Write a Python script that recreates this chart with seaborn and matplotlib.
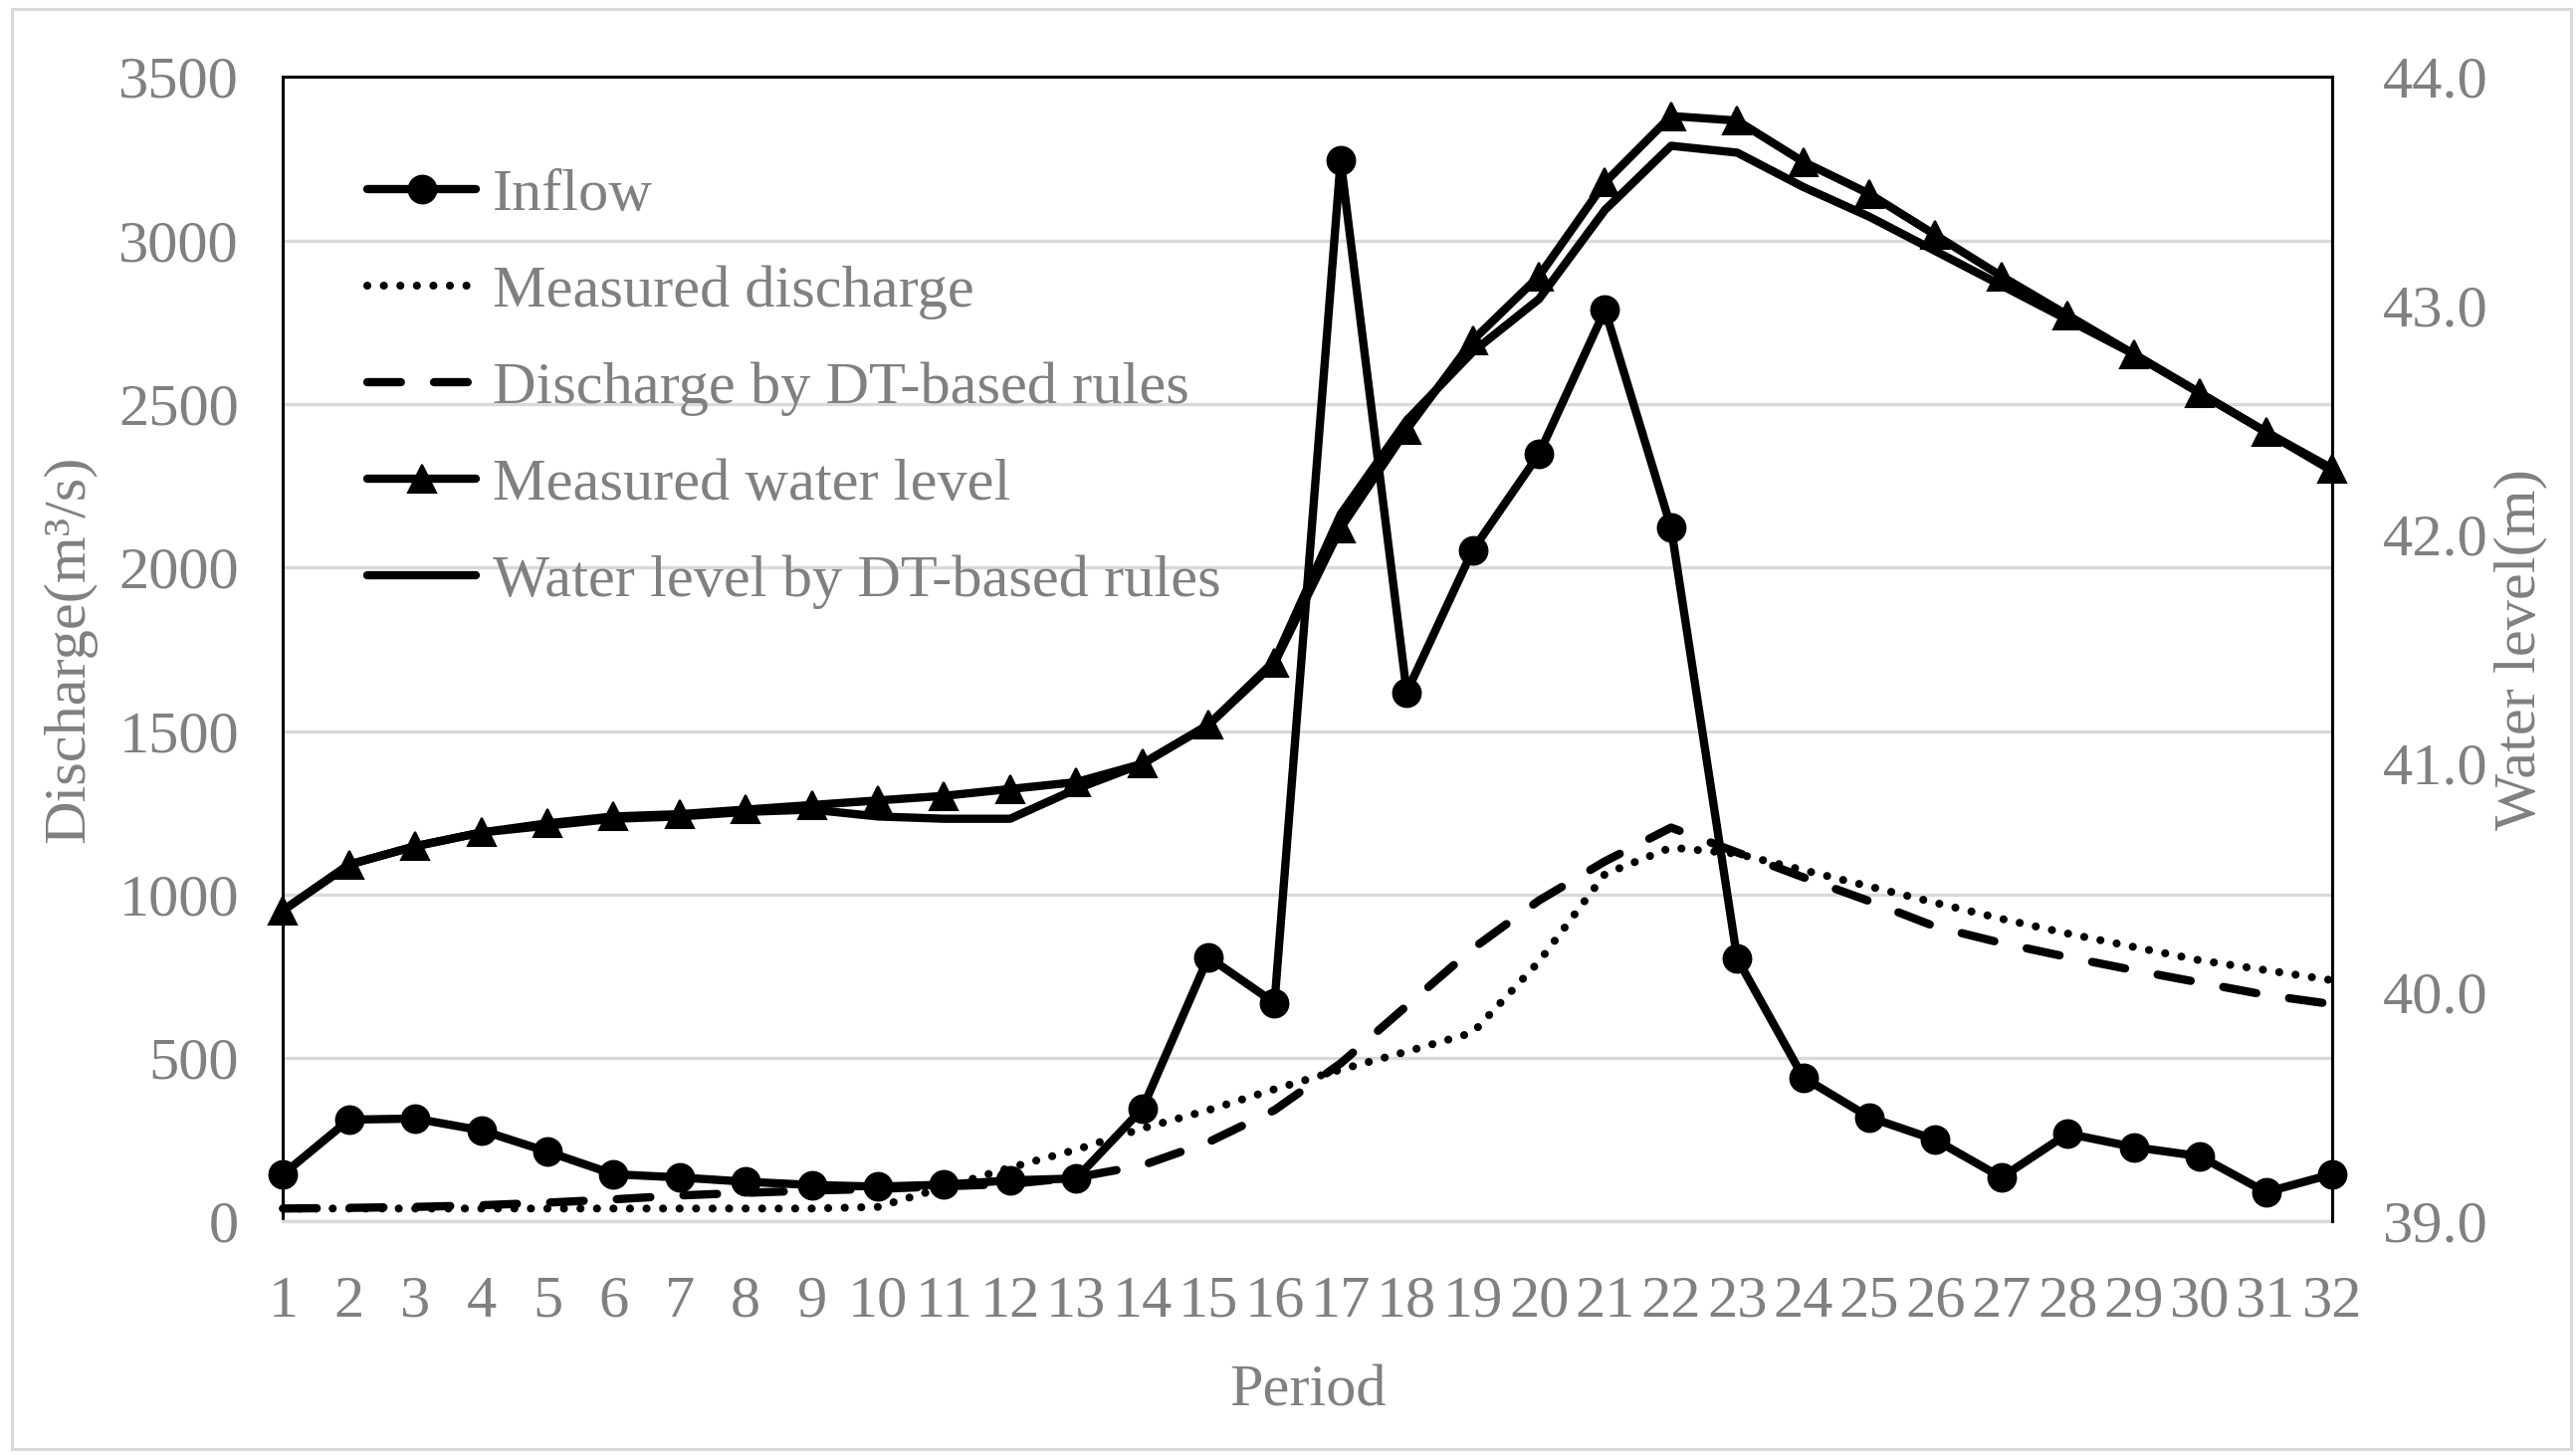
import matplotlib
matplotlib.use("Agg")
import matplotlib.pyplot as plt
from matplotlib.patches import Rectangle
from matplotlib.ticker import FixedLocator
import pandas as pd
import seaborn as sns

# values
period = list(range(1, 33))
inflow = [145, 312, 315, 279, 214, 145, 135, 122, 112, 107, 113, 126, 132, 345, 809, 669,
          3246, 1619, 2054, 2347, 2788, 2122, 804, 441, 319, 250, 135, 269, 228, 200, 90, 145]
measured_q = [40, 40, 40, 40, 40, 40, 40, 40, 40, 45, 105, 165, 220, 285, 341, 405,
              465, 520, 578, 795, 1063, 1144, 1125, 1075, 1025, 975, 926, 881, 840, 799, 769, 738]
dt_q = [40, 42, 45, 50, 58, 68, 80, 88, 95, 100, 108, 115, 135, 172, 243, 341,
        484, 660, 835, 982, 1102, 1205, 1129, 1053, 980, 902, 852, 809, 769, 731, 693, 665]
measured_wl = [40.36, 40.56, 40.64, 40.70, 40.74, 40.77, 40.78, 40.80, 40.82, 40.84, 40.86,
               40.89, 40.92, 41.00, 41.17, 41.44, 42.03, 42.46, 42.85, 43.13, 43.54, 43.83,
               43.81, 43.63, 43.49, 43.31, 43.13, 42.96, 42.79, 42.62, 42.45, 42.29]
dt_wl = [40.36, 40.56, 40.64, 40.70, 40.73, 40.76, 40.77, 40.79, 40.80, 40.77, 40.76,
         40.76, 40.89, 41.00, 41.17, 41.45, 42.09, 42.50, 42.80, 43.03, 43.42, 43.70,
         43.67, 43.52, 43.39, 43.24, 43.09, 42.94, 42.79, 42.62, 42.45, 42.28]

q_ticks = [0, 500, 1000, 1500, 2000, 2500, 3000, 3500]
wl_ticks = [39.0, 40.0, 41.0, 42.0, 43.0, 44.0]
minor_x = [1, 6, 11, 16, 21, 26, 31]

sns.set_style("white")
plt.rcParams["font.family"] = ["Liberation Serif", "DejaVu Serif"]

GRAY = "#808080"
LIGHT = "#d9d9d9"
FS = 43.5

df = pd.DataFrame({"period": period, "inflow": inflow, "measured_q": measured_q,
                   "dt_q": dt_q, "measured_wl": measured_wl, "dt_wl": dt_wl})

fig = plt.figure(figsize=(25.88, 14.62), dpi=100)
ax = fig.add_axes([0.1099, 0.1604, 0.7954, 0.7866])
ax2 = ax.twinx()

common = dict(color="black", clip_on=False, solid_capstyle="round",
              dash_capstyle="round", legend=False, mec="black", mew=1.5)

sns.lineplot(data=df, x="period", y="inflow", ax=ax, lw=6, marker="o", ms=20,
             label="Inflow", **common)
sns.lineplot(data=df, x="period", y="measured_q", ax=ax, lw=5.8,
             linestyle=(0, (0.01, 2.05)), label="Measured discharge", **common)
sns.lineplot(data=df, x="period", y="dt_q", ax=ax, lw=6,
             linestyle=(0, (4.05, 4.0)), label="Discharge by DT-based rules", **common)
sns.lineplot(data=df, x="period", y="measured_wl", ax=ax2, lw=6, marker="^", ms=20,
             label="Measured water level", **common)
sns.lineplot(data=df, x="period", y="dt_wl", ax=ax2, lw=6,
             label="Water level by DT-based rules", **common)

# axes ranges and ticks
ax.set_xlim(1, 32)
ax.set_ylim(0, 3500)
ax2.set_ylim(39, 44)
ax.set_xticks(period)
ax.set_xticklabels([str(p) for p in period])
ax.xaxis.set_minor_locator(FixedLocator(minor_x))
ax.tick_params(axis="x", which="major", length=0, pad=39, labelsize=FS, labelcolor=GRAY)
ax.tick_params(axis="x", which="minor", direction="in", length=17, width=2.2, color=LIGHT)
ax.set_yticks(q_ticks)
ax.tick_params(axis="y", length=0, pad=32, labelsize=FS, labelcolor=GRAY)
ax2.set_yticks(wl_ticks)
ax2.set_yticklabels([f"{v:.1f}" for v in wl_ticks])
ax2.tick_params(axis="y", length=0, pad=37, labelsize=FS, labelcolor=GRAY)

ax.yaxis.grid(True, color=LIGHT, lw=2.4)
ax.xaxis.grid(False)
ax.set_axisbelow(True)

for s in ["top", "left", "right"]:
    ax.spines[s].set_color("black")
    ax.spines[s].set_linewidth(2.2)
ax.spines["bottom"].set_color(LIGHT)
ax.spines["bottom"].set_linewidth(2.4)
for s in ["top", "left", "bottom"]:
    ax2.spines[s].set_visible(False)
ax2.spines["right"].set_color("black")
ax2.spines["right"].set_linewidth(2.2)

ax.set_xlabel("Period", fontsize=FS, color=GRAY)
ax.xaxis.set_label_coords(0.5, -0.1256)
ax.set_ylabel("Discharge(m³/s)", fontsize=FS, color=GRAY)
ax.yaxis.set_label_coords(-0.0911, 0.5)
ax2.set_ylabel("Water level(m)", fontsize=FS, color=GRAY)
ax2.yaxis.set_label_coords(1.079, 0.5)

h1, l1 = ax.get_legend_handles_labels()
h2, l2 = ax2.get_legend_handles_labels()
ax2.legend(h1 + h2, l1 + l2, loc="upper left", bbox_to_anchor=(0.0411, 0.9207),
           frameon=False, fontsize=FS, labelcolor=GRAY, borderpad=0, borderaxespad=0,
           handlelength=1.81, handletextpad=0.28, labelspacing=0.69, numpoints=1)

# light chart-area border
fig.patches.append(Rectangle((0.00464, 0.0041), 0.99343, 0.98974, transform=fig.transFigure,
                             fill=False, edgecolor=LIGHT, lw=2.2))

fig.savefig("out.png", dpi=100, facecolor="white")
